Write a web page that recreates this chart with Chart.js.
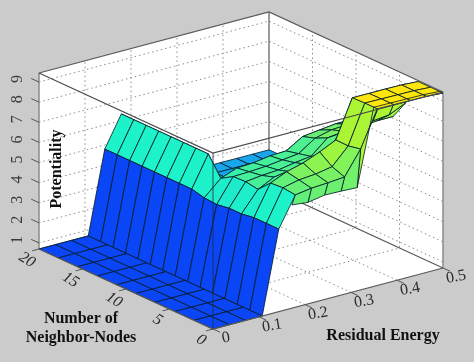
<!DOCTYPE html>
<html lang="en">
<head>
  <meta charset="UTF-8">
  <title>Potentiality surface</title>
  <script src="https://cdn.jsdelivr.net/npm/chart.js"></script>
  <style>
    html, body { margin: 0; background: #cbcbcb; overflow: hidden; }
    canvas { display: block; }
  </style>
</head>
<body>
  <canvas id="grafico" width="474" height="362"></canvas>
  <script>
    // surface, first y row is the skirt hanging under the y=0 edge
    const residualEnergy = [0, 0.036, 0.071, 0.107, 0.143, 0.179, 0.214, 0.25, 0.286, 0.321, 0.357, 0.393, 0.429, 0.464, 0.5];
    const neighborNodes = [0.4, 0, 1.43, 2.86, 4.29, 5.71, 7.14, 8.57, 10, 11.43, 12.86, 14.29, 15.71, 17.14, 18.57, 20];
    const potentiality = [
      [0.7, 0.7, 0.7, 0.7, 4.8, 5.7, 5.62, 5.76, 5.74, 5.7, 9.48, 9.47, 9.46, 9.45, 9.4],
      [0.7, 0.7, 0.7, 0.7, 4.8, 6.28, 6.4, 6.45, 6.52, 7.7, 9.48, 9.47, 9.46, 9.45, 9.4],
      [0.7, 0.7, 0.7, 0.7, 4.8, 6.35, 6.53, 6.6, 6.75, 7.57, 9.48, 9.47, 9.46, 9.45, 9.4],
      [0.7, 0.7, 0.7, 0.7, 4.8, 6.3, 6.65, 6.87, 7.2, 7.58, 9.46, 9.46, 9.46, 9.45, 9.4],
      [0.7, 0.7, 0.7, 0.7, 4.7, 5.7, 6.1, 6.15, 6.3, 6.5, 7.4, 7.5, 7.6, 7.68, 8.06],
      [0.7, 0.7, 0.7, 0.7, 4.7, 5.8, 5.9, 5.95, 6.1, 6.2, 6.9, 7.0, 7.0, 7.1, 7.1],
      [0.7, 0.7, 0.7, 0.7, 4.6, 5.77, 5.8, 5.85, 5.95, 6.05, 6.6, 6.8, 6.85, 6.9, 6.9],
      [0.7, 0.7, 0.7, 0.7, 4.65, 5.4, 5.7, 5.74, 5.87, 5.9, 6.4, 6.5, 6.6, 6.6, 6.6],
      [0.7, 0.7, 0.7, 0.7, 4.8, 6.33, 3.6, 2.9, 2.8, 3.0, 3.2, 3.2, 3.0, 3.0, 3.0],
      [0.7, 0.7, 0.7, 0.7, 4.8, 6.33, 2.7, 2.6, 2.6, 2.6, 2.6, 2.6, 2.6, 2.6, 2.6],
      [0.7, 0.7, 0.7, 0.7, 4.8, 6.33, 2.7, 2.6, 2.6, 2.6, 2.6, 2.6, 2.6, 2.6, 2.6],
      [0.7, 0.7, 0.7, 0.7, 4.8, 6.33, 2.7, 2.6, 2.6, 2.6, 2.6, 2.6, 2.6, 2.6, 2.6],
      [0.7, 0.7, 0.7, 0.7, 4.8, 6.33, 2.7, 2.6, 2.6, 2.6, 2.6, 2.6, 2.6, 2.6, 2.6],
      [0.7, 0.7, 0.7, 0.7, 4.8, 6.33, 2.7, 2.6, 2.6, 2.6, 2.6, 2.6, 2.6, 2.6, 2.6],
      [0.7, 0.7, 0.7, 0.7, 4.8, 6.33, 2.7, 2.6, 2.6, 2.6, 2.6, 2.6, 2.6, 2.6, 2.6],
      [0.7, 0.7, 0.7, 0.7, 4.8, 6.33, 2.7, 2.6, 2.6, 2.6, 2.6, 2.6, 2.6, 2.6, 2.6]
    ];
    // the flat strip in front of the wall has wider cells than the wall stripes
    const floorEnergy = [0, 0.036, 0.071, 0.107];
    const floorNodes = [0, 2.2, 4.4, 6.7, 8.9, 11.1, 13.3, 15.6, 17.8, 20];
    const floorLevel = 0.7;
    const xTicks = [0, 0.1, 0.2, 0.3, 0.4, 0.5];
    const yTicks = [0, 5, 10, 15, 20];
    const zTicks = [1, 2, 3, 4, 5, 6, 7, 8, 9];

    // box limits and the fixed view of the original plot
    const xMax = 0.5, yMax = 20, zMin = 0.7, zMax = 9.45;
    function ver(x, y, z) {
      return {
        x: 213 + 230 * x / xMax - 174 * y / yMax,
        y: 329 - 61 * x / xMax - 80 * y / yMax - 176 * (z - zMin) / (zMax - zMin)
      };
    }

    const mapaCor = [
      [0.7, 10, 70, 245], [2.6, 25, 165, 235], [4.8, 30, 242, 200],
      [5.8, 70, 240, 150], [6.4, 105, 240, 115], [7.0, 150, 245, 70], [7.7, 175, 245, 50], [9.4, 255, 230, 15]
    ];
    function corDe(z) {
      for (let k = 1; k < mapaCor.length; k++) {
        if (z <= mapaCor[k][0]) {
          const a = mapaCor[k - 1], b = mapaCor[k], t = (z - a[0]) / (b[0] - a[0]);
          return `rgb(${[1, 2, 3].map(c => Math.round(a[c] + (b[c] - a[c]) * t)).join(',')})`;
        }
      }
      return 'rgb(255,230,15)';
    }

    const datasets = [];
    function linha(pts, cor, largura, tracejado) {
      datasets.push({
        data: pts.map(p => ver(p[0], p[1], p[2])), showLine: true, fill: false, tension: 0, pointRadius: 0,
        borderColor: cor, borderWidth: largura, borderDash: tracejado || [], order: -datasets.length
      });
    }
    function face(pts, fundo, cor, largura) {
      const p = pts.concat([pts[0]]).map(q => ver(q[0], q[1], q[2]));
      datasets.push({
        data: p, showLine: true, fill: 'shape', tension: 0, pointRadius: 0,
        backgroundColor: fundo, borderColor: cor, borderWidth: largura, order: -datasets.length
      });
    }

    // walls and floor
    face([[0, yMax, zMin], [0, yMax, zMax], [xMax, yMax, zMax], [xMax, yMax, zMin]], '#fff', '#fff', 0);
    face([[xMax, 0, zMin], [xMax, 0, zMax], [xMax, yMax, zMax], [xMax, yMax, zMin]], '#fff', '#fff', 0);
    face([[0, 0, zMin], [xMax, 0, zMin], [xMax, yMax, zMin], [0, yMax, zMin]], '#fff', '#fff', 0);

    // dotted grid
    const pontilhado = '#8c8c8c';
    zTicks.forEach(z => {
      linha([[0, yMax, z], [xMax, yMax, z], [xMax, 0, z]], pontilhado, 1, [1.5, 3]);
    });
    xTicks.slice(1, 5).forEach(x => {
      linha([[x, 0, zMin], [x, yMax, zMin], [x, yMax, zMax]], pontilhado, 1, [1.5, 3]);
    });
    yTicks.slice(1, 4).forEach(y => {
      linha([[0, y, zMin], [xMax, y, zMin], [xMax, y, zMax]], pontilhado, 1, [1.5, 3]);
    });

    // back edges
    const borda = '#5a5a5a';
    linha([[0, yMax, zMax], [xMax, yMax, zMax], [xMax, 0, zMax]], borda, 1.2);
    linha([[xMax, yMax, zMin], [xMax, yMax, zMax]], borda, 1.2);
    linha([[0, yMax, zMin], [xMax, yMax, zMin], [xMax, 0, zMin]], borda, 1.2);
    linha([[0, yMax, zMin], [0, yMax, zMax]], '#8a8a8a', 1.5);
    linha([[xMax, 0, zMin], [xMax, 0, zMax]], '#8a8a8a', 1.5);

    // surface, far cells first so nearer ones cover them
    const malha = 'rgba(0,25,40,0.8)';
    for (let j = neighborNodes.length - 2; j >= 0; j--) {
      for (let i = residualEnergy.length - 2; i >= 3; i--) {
        if (j === 0 && i < 5) continue; // skirt starts right of the wall
        const x0 = residualEnergy[i], x1 = residualEnergy[i + 1];
        const y0 = neighborNodes[j], y1 = neighborNodes[j + 1];
        face([
          [x0, y0, potentiality[j][i]], [x1, y0, potentiality[j][i + 1]],
          [x1, y1, potentiality[j + 1][i + 1]], [x0, y1, potentiality[j + 1][i]]
        ], corDe(potentiality[j + 1][i]), malha, 1);
      }
    }
    for (let j = 0; j < floorNodes.length - 1; j++) {
      for (let i = 0; i < floorEnergy.length - 1; i++) {
        face([
          [floorEnergy[i], floorNodes[j], floorLevel], [floorEnergy[i + 1], floorNodes[j], floorLevel],
          [floorEnergy[i + 1], floorNodes[j + 1], floorLevel], [floorEnergy[i], floorNodes[j + 1], floorLevel]
        ], corDe(floorLevel), malha, 1);
      }
    }

    // front edges sit on top of the surface
    linha([[0, yMax, zMax], [0, 0, zMax], [xMax, 0, zMax]], '#4c4c4c', 1.2);
    linha([[0, 0, zMin], [0, 0, zMax]], 'rgba(30,40,70,0.8)', 1);
    linha([[0, yMax, zMin], [0, 0, zMin], [xMax, 0, zMin]], borda, 1.2);

    // ticks
    xTicks.forEach(x => linha([[x, 0, zMin], [x, -0.8, zMin]], '#555', 1));
    yTicks.forEach(y => linha([[0, y, zMin], [-0.015, y, zMin]], '#555', 1));
    zTicks.forEach(z => linha([[0, yMax, z], [0, yMax + 0.9, z]], '#555', 1));

    function texto(ctx, str, px, py, ang, fonte, cor) {
      ctx.save();
      ctx.translate(px, py);
      ctx.rotate(ang * Math.PI / 180);
      ctx.font = fonte;
      ctx.fillStyle = cor;
      ctx.textAlign = 'center';
      ctx.textBaseline = 'middle';
      ctx.fillText(str, 0, 0);
      ctx.restore();
    }

    const rotulos = {
      id: 'rotulos',
      afterDraw(chart) {
        const ctx = chart.ctx;
        const serif = '"Liberation Serif", serif';
        zTicks.forEach(z => {
          const p = ver(0, yMax, z);
          texto(ctx, String(z), p.x - 21, p.y - 3, -90, `16px ${serif}`, '#3a3a3a');
        });
        yTicks.forEach(y => {
          const p = ver(0, y, zMin);
          texto(ctx, String(y), p.x - 12, p.y + 11, 32, `italic 16px ${serif}`, '#2a2a2a');
        });
        xTicks.forEach(x => {
          const p = ver(x, 0, zMin);
          texto(ctx, String(x), p.x + 13, p.y + 9, -10, `16px ${serif}`, '#2a2a2a');
        });
        const titulo = `bold 16px ${serif}`;
        texto(ctx, 'Residual Energy', 383, 336, 0, titulo, '#111');
        texto(ctx, 'Number of', 81, 319, 0, titulo, '#111');
        texto(ctx, 'Neighbor-Nodes', 81, 338, 0, titulo, '#111');
        texto(ctx, 'Potentiality', 57, 169, -90, titulo, '#111');
      }
    };

    new Chart(document.getElementById('grafico'), {
      type: 'scatter',
      data: { datasets },
      options: {
        responsive: false,
        animation: false,
        events: [],
        layout: { padding: 0 },
        plugins: { legend: { display: false }, tooltip: { enabled: false } },
        scales: {
          x: { type: 'linear', display: false, min: 0, max: 474 },
          y: { type: 'linear', display: false, min: 0, max: 362, reverse: true }
        }
      },
      plugins: [rotulos]
    });
  </script>
</body>
</html>
